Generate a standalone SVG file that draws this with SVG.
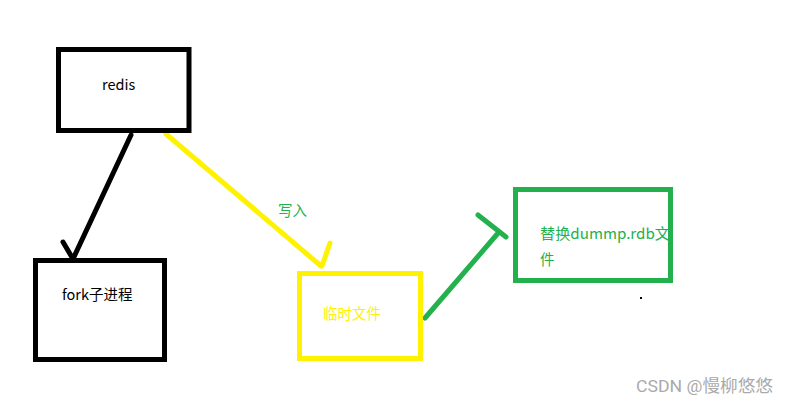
<svg xmlns="http://www.w3.org/2000/svg" width="788" height="403" viewBox="0 0 788 403">
<style>
.box{fill:none;stroke-width:5}
.t{font-family:"Noto Sans CJK SC","Liberation Sans",sans-serif;font-size:14.5px;dominant-baseline:central}
.ln{fill:none;stroke-width:5;stroke-linecap:round;stroke-linejoin:round}
</style>
<rect width="788" height="403" fill="#fff"/>
<g id="connectors">
<path class="ln" stroke="#000" d="M131,135 L73,259 M63,242 L73,259"/>
<path class="ln" stroke="#fff200" d="M166,134 L321,266 M330,243 L322,266"/>
<path class="ln" stroke="#22b14c" d="M425,318 L499,232 M478,215 L506,237"/>
<text class="t" x="278" y="209" fill="#22b14c">写入</text>
</g>
<g id="redis">
<rect class="box" stroke="#000" x="58.5" y="49.5" width="130.5" height="81"/>
<text class="t" x="102" y="83" fill="#000">redis</text>
</g>
<g id="fork">
<rect class="box" stroke="#000" x="35.5" y="260.5" width="129" height="99"/>
<text class="t" x="62" y="293" fill="#000">fork子进程</text>
</g>
<g id="temp">
<rect class="box" stroke="#fff200" x="299.5" y="273.5" width="121" height="85"/>
<text class="t" x="323" y="312" fill="#fff200">临时文件</text>
</g>
<g id="replace">
<text class="t" x="540" y="232" fill="#22b14c" textLength="130" lengthAdjust="spacingAndGlyphs">替换dummp.rdb文</text>
<text class="t" x="540" y="258" fill="#22b14c">件</text>
<rect class="box" stroke="#22b14c" x="515.5" y="189.5" width="155" height="91"/>
</g>
<rect x="640" y="297" width="2" height="2" fill="#000"/>
<text x="636" y="386" font-family="Roboto,'Noto Sans CJK SC',sans-serif" font-size="16.5" fill="#aaa" dominant-baseline="central" textLength="137" lengthAdjust="spacingAndGlyphs">CSDN @慢柳悠悠</text>
</svg>
